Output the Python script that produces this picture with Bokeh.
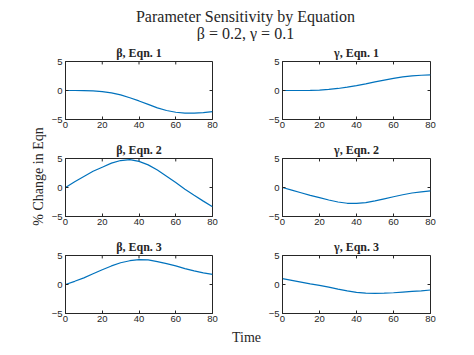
from bokeh.plotting import figure
from bokeh.layouts import column, row
from bokeh.models import Label, LinearAxis, Range1d, FixedTicker
from bokeh.embed import file_html
from bokeh.resources import INLINE
import math

# ---------------- data ----------------
time = [0, 5, 10, 15, 20, 25, 30, 35, 40, 45, 50, 55, 60, 65, 70, 75, 80]
beta_eqn1 = [0.0, 0.0, -0.03, -0.08, -0.2, -0.4, -0.75, -1.25, -1.8, -2.4, -3.0, -3.45, -3.75, -3.9, -3.9, -3.8, -3.65]
gamma_eqn1 = [0.0, 0.0, 0.0, 0.03, 0.08, 0.18, 0.35, 0.58, 0.85, 1.15, 1.5, 1.8, 2.1, 2.35, 2.52, 2.63, 2.7]
beta_eqn2 = [0.0, 1.0, 1.9, 2.8, 3.5, 4.2, 4.65, 4.8, 4.5, 3.9, 3.0, 1.95, 0.85, -0.3, -1.35, -2.35, -3.3]
gamma_eqn2 = [0.0, -0.45, -0.9, -1.35, -1.75, -2.15, -2.5, -2.72, -2.75, -2.6, -2.3, -1.95, -1.6, -1.25, -0.95, -0.75, -0.57]
beta_eqn3 = [0.0, 0.55, 1.15, 1.85, 2.55, 3.2, 3.75, 4.1, 4.3, 4.25, 3.95, 3.6, 3.2, 2.75, 2.35, 2.0, 1.75]
gamma_eqn3 = [1.0, 0.7, 0.4, 0.1, -0.15, -0.45, -0.8, -1.1, -1.35, -1.5, -1.52, -1.5, -1.42, -1.3, -1.2, -1.1, -0.95]

x_ticks = [0, 20, 40, 60, 80]
y_ticks = [-5, 0, 5]

subplot_titles = ["\u03b2, Eqn. 1", "\u03b3, Eqn. 1",
                  "\u03b2, Eqn. 2", "\u03b3, Eqn. 2",
                  "\u03b2, Eqn. 3", "\u03b3, Eqn. 3"]
series = [beta_eqn1, gamma_eqn1, beta_eqn2, gamma_eqn2, beta_eqn3, gamma_eqn3]

main_title = "Parameter Sensitivity by Equation"
sub_title = "\u03b2 = 0.2, \u03b3 = 0.1"
y_label = "% Change in Eqn"
x_label = "Time"

AX = "#262626"
LINE = "#0072BD"
SERIF = "Liberation Serif"
SANS = "Liberation Sans"
TOTAL_W = 466
TICK_PX = 3
HEADER_H = 41
TOP_B = 19


def blank(w, h):
    f = figure(width=w, height=h, x_range=Range1d(0, w), y_range=Range1d(0, h),
               output_backend="svg", toolbar_location=None,
               min_border_left=0, min_border_right=0, min_border_top=0, min_border_bottom=0,
               x_axis_location=None, y_axis_location=None)
    f.grid.visible = False
    f.outline_line_color = None
    f.border_fill_color = "white"
    f.background_fill_color = "white"
    return f


def make_sub(ys, title, left, right, top, bottom, frame_w, frame_h):
    p = figure(width=left + frame_w + right, height=top + frame_h + bottom,
               x_range=Range1d(0, 80), y_range=Range1d(-5, 5),
               output_backend="svg", toolbar_location=None,
               min_border_left=left, min_border_right=right,
               min_border_top=top, min_border_bottom=bottom,
               x_axis_location=None, y_axis_location=None, title=title)
    p.title.align = "center"
    p.title.text_font = SERIF
    p.title.text_font_style = "bold"
    p.title.text_font_size = "12px"
    p.title.text_color = AX
    p.title.standoff = 4
    p.title.offset = 0
    p.grid.visible = False
    p.outline_line_color = AX
    p.outline_line_width = 1
    p.border_fill_color = "white"
    p.background_fill_color = "white"
    for loc, ticks in (("below", x_ticks), ("left", y_ticks)):
        ax = LinearAxis(ticker=FixedTicker(ticks=ticks))
        ax.major_tick_in = TICK_PX
        ax.major_tick_out = 0
        ax.minor_tick_line_color = None
        ax.major_tick_line_color = AX
        ax.axis_line_color = AX
        ax.major_label_text_font = SANS
        ax.major_label_text_color = AX
        ax.major_label_text_font_size = "9.5px"
        ax.major_label_standoff = 2 if loc == "below" else 3
        p.add_layout(ax, loc)
    # mirrored (box) ticks on the top and right edges
    dy = 10.0 * TICK_PX / frame_h
    dx = 80.0 * TICK_PX / frame_w
    p.segment(x0=x_ticks, y0=[5] * len(x_ticks), x1=x_ticks, y1=[5 - dy] * len(x_ticks),
              line_color=AX, line_width=1)
    p.segment(x0=[80] * len(y_ticks), y0=y_ticks, x1=[80 - dx] * len(y_ticks), y1=y_ticks,
              line_color=AX, line_width=1)
    p.line(time, ys, line_color=LINE, line_width=1.2)
    return p


# header
header = blank(TOTAL_W, HEADER_H)
header.add_layout(Label(x=245, y=HEADER_H - 16, text=main_title, text_align="center",
                        text_baseline="middle", text_font=SERIF, text_font_size="16px",
                        text_color=AX))
header.add_layout(Label(x=245, y=HEADER_H - 33, text=sub_title, text_align="center",
                        text_baseline="middle", text_font=SERIF, text_font_size="16px",
                        text_color=AX))

rows = []
for r in range(3):
    bottom = 97 - TOP_B - 59 if r < 2 else 16
    pl = make_sub(series[2 * r], subplot_titles[2 * r], 14, 53, TOP_B, bottom, 150, 59)
    pr = make_sub(series[2 * r + 1], subplot_titles[2 * r + 1], 14, 36, TOP_B, bottom, 151, 59)
    rows.append(row(pl, pr))
rows_h = 2 * 97 + TOP_B + 59 + 16

# y label
ylab = blank(48, rows_h)
ylab.add_layout(Label(x=38, y=rows_h - (176 - HEADER_H), text=y_label, text_align="center",
                      text_baseline="middle", angle=math.pi / 2, text_font=SERIF,
                      text_font_size="14px", text_color=AX))

# footer
footer = blank(TOTAL_W, 18)
footer.add_layout(Label(x=246, y=10, text=x_label, text_align="center", text_baseline="middle",
                        text_font=SERIF, text_font_size="14px", text_color=AX))

grid = column(*rows)
page = column(header, row(ylab, grid), footer)

open("out.html", "w").write(file_html(page, INLINE))
